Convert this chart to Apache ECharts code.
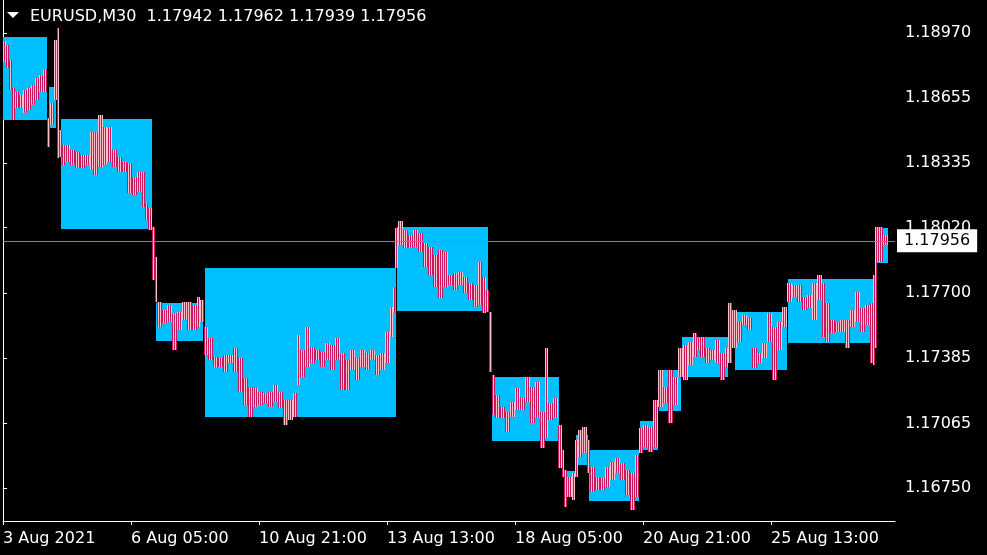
<!DOCTYPE html>
<html><head><meta charset="utf-8">
<script src="https://cdn.jsdelivr.net/npm/echarts@6/dist/echarts.min.js"></script>
<style>html,body{margin:0;padding:0;background:#000;}#c{width:987px;height:555px;}</style>
</head><body><div id="c"></div>
<script>
// ---- chart values ----
const symbolTitle = 'EURUSD,M30';
const lastOHLC = ['1.17942', '1.17962', '1.17939', '1.17956'];
const currentPrice = 1.17956;
const priceTicks = [1.16750, 1.17065, 1.17385, 1.17700, 1.18020, 1.18335, 1.18655, 1.18970];
// time axis measured in M30 bars from the first visible bar
const timeTickIdx = [0, 128, 256, 384, 512, 640, 768];
const timeTickLabels = ['3 Aug 2021', '6 Aug 05:00', '10 Aug 21:00', '13 Aug 13:00', '18 Aug 05:00', '20 Aug 21:00', '25 Aug 13:00'];
const lastBarEnd = 885;

// price bars, grouped (bar index where each group starts, group high, group low)
const barStart = [
  0, 3, 6, 9, 12, 16, 20, 24, 28, 32,
  36, 40, 44, 47, 51, 54, 56, 59, 62, 67,
  72, 77, 82, 87, 90, 95, 100, 104, 109, 114,
  119, 124, 129, 134, 139, 142, 145, 149, 152, 154,
  159, 164, 169, 174, 179, 184, 189, 194, 197, 201,
  205, 210, 215, 220, 225, 230, 235, 240, 245, 250,
  255, 260, 265, 270, 275, 280, 285, 290, 294, 297,
  302, 307, 312, 317, 322, 327, 332, 337, 342, 347,
  352, 357, 362, 367, 372, 377, 382, 387, 390, 392,
  395, 400, 405, 410, 415, 420, 425, 430, 435, 440,
  445, 450, 455, 460, 465, 470, 475, 479, 483, 486,
  489, 492, 497, 502, 507, 512, 517, 522, 527, 532,
  537, 542, 545, 550, 555, 559, 561, 564, 569, 572,
  575, 579, 584, 587, 592, 597, 602, 607, 612, 617,
  622, 627, 632, 636, 640, 645, 650, 655, 660, 665,
  670, 675, 680, 685, 690, 694, 697, 702, 707, 712,
  717, 722, 725, 729, 734, 739, 744, 749, 754, 759,
  764, 769, 774, 779, 784, 789, 794, 799, 804, 809,
  814, 819, 822, 827, 832, 837, 842, 847, 852, 857,
  862, 867, 870, 872, 874, 880
];
const barHigh = [
  1.18931, 1.18911, 1.18838, 1.18702, 1.18682, 1.18667, 1.18692, 1.18702, 1.18716, 1.18750,
  1.18765, 1.18789, 1.18555, 1.18628, 1.18936, 1.18994, 1.18497, 1.18423, 1.18423, 1.18399,
  1.18389, 1.18375, 1.18375, 1.18487, 1.18487, 1.18570, 1.18511, 1.18511, 1.18399, 1.18365,
  1.18340, 1.18336, 1.18267, 1.18292, 1.18292, 1.18140, 1.18116, 1.18023, 1.17877, 1.17657,
  1.17618, 1.17643, 1.17604, 1.17608, 1.17657, 1.17657, 1.17643, 1.17682, 1.17667, 1.17535,
  1.17482, 1.17389, 1.17384, 1.17399, 1.17399, 1.17433, 1.17384, 1.17286, 1.17242, 1.17238,
  1.17218, 1.17213, 1.17218, 1.17252, 1.17218, 1.17179, 1.17179, 1.17213, 1.17496, 1.17423,
  1.17535, 1.17438, 1.17423, 1.17413, 1.17457, 1.17447, 1.17482, 1.17408, 1.17374, 1.17423,
  1.17389, 1.17423, 1.17408, 1.17423, 1.17399, 1.17408, 1.17511, 1.17633, 1.17730, 1.18018,
  1.18052, 1.18009, 1.17984, 1.18009, 1.17994, 1.17945, 1.17926, 1.17887, 1.17911, 1.17901,
  1.17789, 1.17799, 1.17804, 1.17779, 1.17750, 1.17740, 1.17852, 1.17779, 1.17716, 1.17608,
  1.17301, 1.17203, 1.17145, 1.17120, 1.17169, 1.17238, 1.17194, 1.17291, 1.17242, 1.17267,
  1.17120, 1.17433, 1.17164, 1.17189, 1.17057, 1.16935, 1.16837, 1.16803, 1.16823, 1.16984,
  1.17033, 1.17047, 1.16984, 1.16852, 1.16803, 1.16798, 1.16852, 1.16876, 1.16896, 1.16872,
  1.16837, 1.16823, 1.16911, 1.17042, 1.17057, 1.17047, 1.17179, 1.17325, 1.17242, 1.17325,
  1.17291, 1.17433, 1.17447, 1.17462, 1.17506, 1.17482, 1.17486, 1.17433, 1.17423, 1.17472,
  1.17408, 1.17433, 1.17652, 1.17618, 1.17560, 1.17594, 1.17579, 1.17433, 1.17408, 1.17457,
  1.17604, 1.17535, 1.17560, 1.17633, 1.17750, 1.17740, 1.17740, 1.17682, 1.17691, 1.17750,
  1.17789, 1.17750, 1.17652, 1.17569, 1.17560, 1.17569, 1.17569, 1.17618, 1.17706, 1.17628,
  1.17643, 1.17652, 1.17789, 1.18023, 1.18023, 1.17984
];
const barLow = [
  1.18828, 1.18799, 1.18692, 1.18545, 1.18604, 1.18604, 1.18580, 1.18594, 1.18619, 1.18643,
  1.18682, 1.18682, 1.18414, 1.18521, 1.18643, 1.18360, 1.18365, 1.18326, 1.18340, 1.18326,
  1.18311, 1.18311, 1.18326, 1.18301, 1.18277, 1.18316, 1.18326, 1.18340, 1.18316, 1.18292,
  1.18292, 1.18189, 1.18179, 1.18194, 1.18121, 1.18057, 1.18009, 1.17765, 1.17657, 1.17535,
  1.17555, 1.17560, 1.17423, 1.17521, 1.17569, 1.17521, 1.17521, 1.17535, 1.17560, 1.17399,
  1.17374, 1.17340, 1.17340, 1.17316, 1.17360, 1.17316, 1.17218, 1.17155, 1.17096, 1.17145,
  1.17155, 1.17164, 1.17145, 1.17169, 1.17140, 1.17057, 1.17081, 1.17096, 1.17252, 1.17291,
  1.17340, 1.17360, 1.17374, 1.17340, 1.17374, 1.17325, 1.17374, 1.17228, 1.17228, 1.17325,
  1.17277, 1.17340, 1.17325, 1.17374, 1.17301, 1.17325, 1.17360, 1.17486, 1.17604, 1.17823,
  1.17935, 1.17921, 1.17921, 1.17926, 1.17901, 1.17828, 1.17789, 1.17730, 1.17677, 1.17730,
  1.17740, 1.17716, 1.17740, 1.17701, 1.17667, 1.17633, 1.17643, 1.17604, 1.17608, 1.17316,
  1.17106, 1.17091, 1.17091, 1.17023, 1.17096, 1.17130, 1.17130, 1.17169, 1.17067, 1.17091,
  1.16945, 1.16994, 1.17081, 1.17091, 1.16847, 1.16803, 1.16657, 1.16706, 1.16691, 1.16803,
  1.16901, 1.16920, 1.16823, 1.16730, 1.16740, 1.16740, 1.16754, 1.16789, 1.16823, 1.16789,
  1.16715, 1.16642, 1.16706, 1.16920, 1.16950, 1.16925, 1.16950, 1.17145, 1.17164, 1.17067,
  1.17155, 1.17291, 1.17277, 1.17350, 1.17389, 1.17423, 1.17389, 1.17360, 1.17374, 1.17360,
  1.17277, 1.17340, 1.17360, 1.17433, 1.17462, 1.17545, 1.17521, 1.17335, 1.17360, 1.17384,
  1.17462, 1.17277, 1.17423, 1.17535, 1.17657, 1.17682, 1.17657, 1.17618, 1.17628, 1.17569,
  1.17667, 1.17486, 1.17462, 1.17506, 1.17511, 1.17511, 1.17433, 1.17535, 1.17560, 1.17511,
  1.17545, 1.17360, 1.17350, 1.17433, 1.17852, 1.17935
];

// range boxes (bar index start/end, price top/bottom)
const boxStart  = [0, 46, 58, 153, 202, 394, 489, 561, 573, 586, 637, 656, 679, 726, 732, 785, 874];
const boxEnd    = [44, 53, 149, 200, 393, 485, 556, 572, 585, 636, 655, 678, 725, 732, 784, 870, 885];
const boxTop    = [1.18950, 1.18706, 1.18550, 1.17652, 1.17823, 1.18023, 1.17291, 1.16833, 1.17008, 1.16935, 1.17076, 1.17325, 1.17486, 1.17613, 1.17608, 1.17770, 1.18018];
const boxBottom = [1.18545, 1.18506, 1.18014, 1.17467, 1.17096, 1.17613, 1.16979, 1.16730, 1.16862, 1.16686, 1.16935, 1.17125, 1.17291, 1.17433, 1.17325, 1.17457, 1.17848];

// ---- styling ----
const FONT = 'DejaVu Sans';
const PINK = '#FFC0CB';
const CRIMSON = '#C8175C';
const BOX = '#00BFFF';

const barData = [];
for (let i = 0; i < barStart.length; i++) {
  const end = i + 1 < barStart.length ? barStart[i + 1] : lastBarEnd;
  const mid = (barHigh[i] + barLow[i]) / 2;
  const prevMid = i > 0 ? (barHigh[i - 1] + barLow[i - 1]) / 2 : mid;
  barData.push([barStart[i], end, barHigh[i], barLow[i], mid >= prevMid ? 1 : 0]);
}
const boxData = boxStart.map((s, i) => [s, boxEnd[i], boxTop[i], boxBottom[i]]);

function renderBox(params, api) {
  const p0 = api.coord([api.value(0), api.value(2)]);
  const p1 = api.coord([api.value(1), api.value(3)]);
  return {
    type: 'rect',
    shape: { x: Math.round(p0[0]), y: Math.round(p0[1]), width: Math.round(p1[0]) - Math.round(p0[0]), height: Math.round(p1[1]) - Math.round(p0[1]) },
    style: { fill: BOX }
  };
}
function renderBar(params, api) {
  const p0 = api.coord([api.value(0), api.value(2)]);
  const p1 = api.coord([api.value(1), api.value(3)]);
  const up = api.value(4) === 1;
  const left = Math.round(p0[0]), right = Math.round(p1[0]);
  const top = Math.round(p0[1]);
  const bot = Math.max(Math.round(p1[1]), top + 1);
  const children = [];
  for (let x = left, k = 0; x < right; x++, k++) {
    const pink = (k % 2 === 0) === up;
    children.push({ type: 'rect', shape: { x: x, y: top, width: 1, height: bot - top }, style: { fill: pink ? PINK : CRIMSON } });
  }
  return { type: 'group', children: children };
}

const yMin = 1.165885, yMax = 1.19131;

const chart = echarts.init(document.getElementById('c'));
chart.setOption({
  backgroundColor: '#000',
  animation: false,
  title: {
    text: symbolTitle + '  ' + lastOHLC.join(' '),
    left: 30, top: 9, padding: 0,
    textStyle: { color: '#fff', fontFamily: FONT, fontSize: 16, fontWeight: 'normal' }
  },
  graphic: [{ type: 'polygon', shape: { points: [[7, 12], [19, 12], [13, 18]] }, style: { fill: '#fff' } }],
  grid: { left: 3, right: 92, top: 0, bottom: 34 },
  xAxis: {
    type: 'value', min: 0, max: 892,
    splitLine: { show: false },
    axisLine: { show: true, lineStyle: { color: '#fff', width: 1 } },
    axisTick: { show: true, length: 4, lineStyle: { color: '#fff' }, customValues: timeTickIdx },
    axisLabel: {
      customValues: timeTickIdx,
      formatter: v => { const k = timeTickIdx.indexOf(Math.round(v)); return k >= 0 ? timeTickLabels[k] : ''; },
      color: '#fff', fontFamily: FONT, fontSize: 16, align: 'left', margin: 10
    }
  },
  yAxis: [{
    type: 'value', position: 'right', min: yMin, max: yMax,
    splitLine: { show: false },
    axisLine: { show: true, lineStyle: { color: '#fff', width: 1 } },
    axisTick: { show: true, length: 4, lineStyle: { color: '#fff' }, customValues: priceTicks },
    axisLabel: {
      customValues: priceTicks,
      formatter: v => v.toFixed(5),
      color: '#fff', fontFamily: FONT, fontSize: 16, margin: 10
    }
  }, {
    type: 'value', position: 'left', min: yMin, max: yMax,
    splitLine: { show: false },
    axisLine: { show: true, lineStyle: { color: '#fff', width: 1 } },
    axisTick: { show: false }, axisLabel: { show: false }
  }],
  series: [{
    type: 'custom', name: 'boxes', renderItem: renderBox, data: boxData,
    encode: { x: [0, 1], y: [2, 3] }, clip: true, z: 1
  }, {
    type: 'custom', name: 'bars', renderItem: renderBar, data: barData,
    encode: { x: [0, 1], y: [2, 3] }, clip: true, z: 2,
    markLine: {
      silent: true, symbol: 'none', precision: 5,
      lineStyle: { color: '#778899', width: 1, type: 'solid' },
      label: {
        position: 'end', formatter: currentPrice.toFixed(5),
        backgroundColor: '#fff', color: '#000', fontFamily: FONT, fontSize: 16,
        padding: [4, 7, 3, 7], distance: 2
      },
      data: [{ yAxis: currentPrice }]
    }
  }]
});
</script>
</body></html>
